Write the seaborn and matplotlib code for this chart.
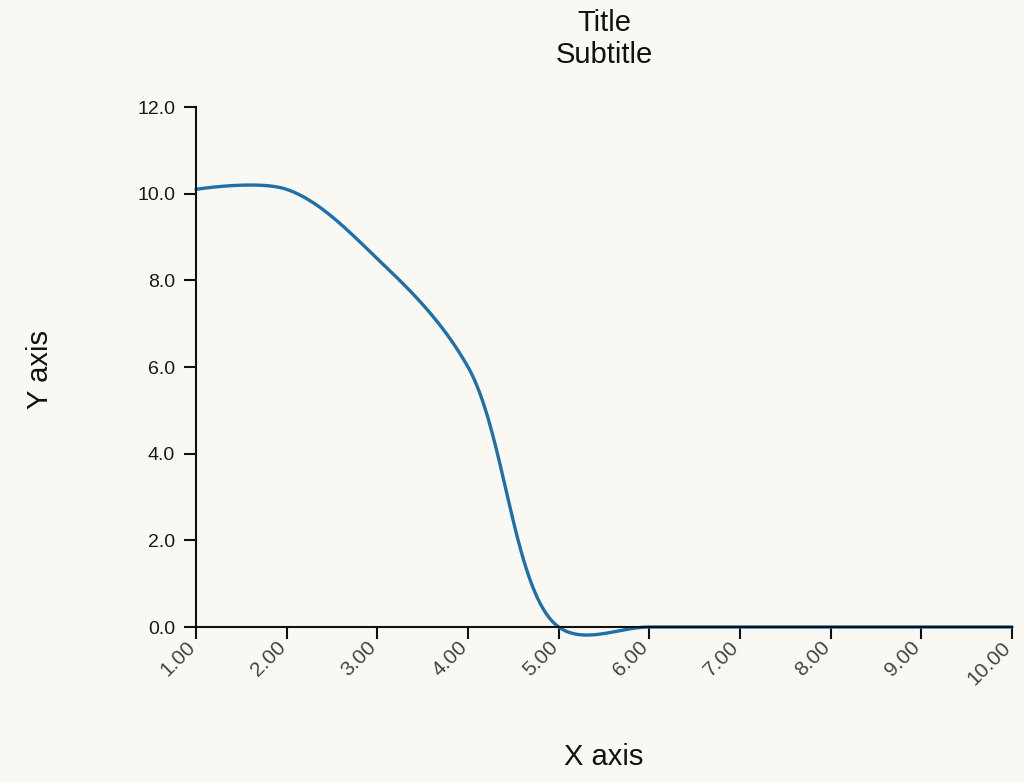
import numpy as np
import pandas as pd
import matplotlib
matplotlib.use('Agg')
import matplotlib.pyplot as plt
import seaborn as sns

sns.set_theme(style='ticks')
plt.rcParams['font.family'] = ['Liberation Sans', 'DejaVu Sans']

x_values = [1, 2, 3, 4, 5, 6, 7, 8, 9, 10]
y_values = [10.1, 10.1, 8.5, 6.0, 0.0, 0.0, 0.0, 0.0, 0.0, 0.0]
x_ticks = [1, 2, 3, 4, 5, 6, 7, 8, 9, 10]
y_ticks = [0, 2, 4, 6, 8, 10, 12]

bg = '#f9f8f3'
line_color = '#1f70a8'


def catmull_rom(px, py, alpha=0.5, steps=40):
    '''centripetal catmull-rom, computed in screen units like d3.curveCatmullRom'''
    pts = list(zip(px, py))
    n = len(pts)
    out_x, out_y = [pts[0][0]], [pts[0][1]]
    for i in range(n - 1):
        p0 = pts[i - 1] if i > 0 else pts[i]
        p1 = pts[i]
        p2 = pts[i + 1]
        p3 = pts[i + 2] if i + 2 < n else pts[i + 1]
        d01 = np.hypot(p1[0] - p0[0], p1[1] - p0[1])
        d12 = np.hypot(p2[0] - p1[0], p2[1] - p1[1])
        d23 = np.hypot(p3[0] - p2[0], p3[1] - p2[1])
        l01a, l12a, l23a = d01 ** alpha, d12 ** alpha, d23 ** alpha
        l01_2a, l12_2a, l23_2a = d01 ** (2 * alpha), d12 ** (2 * alpha), d23 ** (2 * alpha)
        c1 = np.array(p1, dtype=float)
        c2 = np.array(p2, dtype=float)
        if l01a > 1e-12:
            a = 2 * l01_2a + 3 * l01a * l12a + l12_2a
            m = 3 * l01a * (l01a + l12a)
            c1 = (np.array(p1) * a - np.array(p0) * l12_2a + np.array(p2) * l01_2a) / m
        if l23a > 1e-12:
            b = 2 * l23_2a + 3 * l23a * l12a + l12_2a
            m = 3 * l23a * (l23a + l12a)
            c2 = (np.array(p2) * b + np.array(p1) * l23_2a - np.array(p3) * l12_2a) / m
        t = np.linspace(0, 1, steps)[1:]
        bx = ((1 - t) ** 3 * p1[0] + 3 * (1 - t) ** 2 * t * c1[0]
              + 3 * (1 - t) * t ** 2 * c2[0] + t ** 3 * p2[0])
        by = ((1 - t) ** 3 * p1[1] + 3 * (1 - t) ** 2 * t * c1[1]
              + 3 * (1 - t) * t ** 2 * c2[1] + t ** 3 * p2[1])
        out_x.extend(bx)
        out_y.extend(by)
    return np.array(out_x), np.array(out_y)


fig = plt.figure(figsize=(10.24, 7.82), dpi=100, facecolor=bg)
ax = fig.add_axes([196 / 1024, 155 / 782, 816 / 1024, 520 / 782])
ax.set_facecolor(bg)
ax.set_xlim(1, 10)
ax.set_ylim(0, 12)

# smooth in pixel space so the curve shape follows the screen geometry
w_px = 816 / 9
h_px = 520 / 12
sx, sy = catmull_rom(np.array(x_values) * w_px, np.array(y_values) * h_px)
df = pd.DataFrame({'x': sx / w_px, 'y': sy / h_px})
sns.lineplot(data=df, x='x', y='y', sort=False, color=line_color,
             linewidth=2.4, ax=ax, clip_on=False)

sns.despine(ax=ax)
for side in ['left', 'bottom']:
    ax.spines[side].set_linewidth(1.5)
    ax.spines[side].set_color('#111111')

ax.set_xticks(x_ticks)
ax.set_xticklabels(['{:.2f}'.format(v) for v in x_ticks], rotation=45,
                   ha='right', va='baseline', rotation_mode='anchor',
                   fontsize=15, color='#444444')
ax.set_yticks(y_ticks)
ax.set_yticklabels(['{:.1f}'.format(v) for v in y_ticks], fontsize=14,
                   color='#1a1a1a')
ax.tick_params(axis='x', length=8.5, width=1.5, color='#111111', pad=7)
ax.tick_params(axis='y', length=9, width=1.5, color='#111111', pad=6)
ax.set_xlabel('')
ax.set_ylabel('')

cx = (196 + 1012) / 2 / 1024
fig.text(cx, 1 - 23 / 782, 'Title', ha='center', va='center', fontsize=21,
         color='#111111')
fig.text(cx, 1 - 55 / 782, 'Subtitle', ha='center', va='center', fontsize=21,
         color='#111111')
fig.text(cx, 1 - 757 / 782, 'X axis', ha='center', va='center', fontsize=21,
         color='#111111')
fig.text(40 / 1024, 1 - 369 / 782, 'Y axis', ha='center', va='center',
         fontsize=21, rotation=90, color='#111111')

fig.savefig('out.png', dpi=100, facecolor=bg)
